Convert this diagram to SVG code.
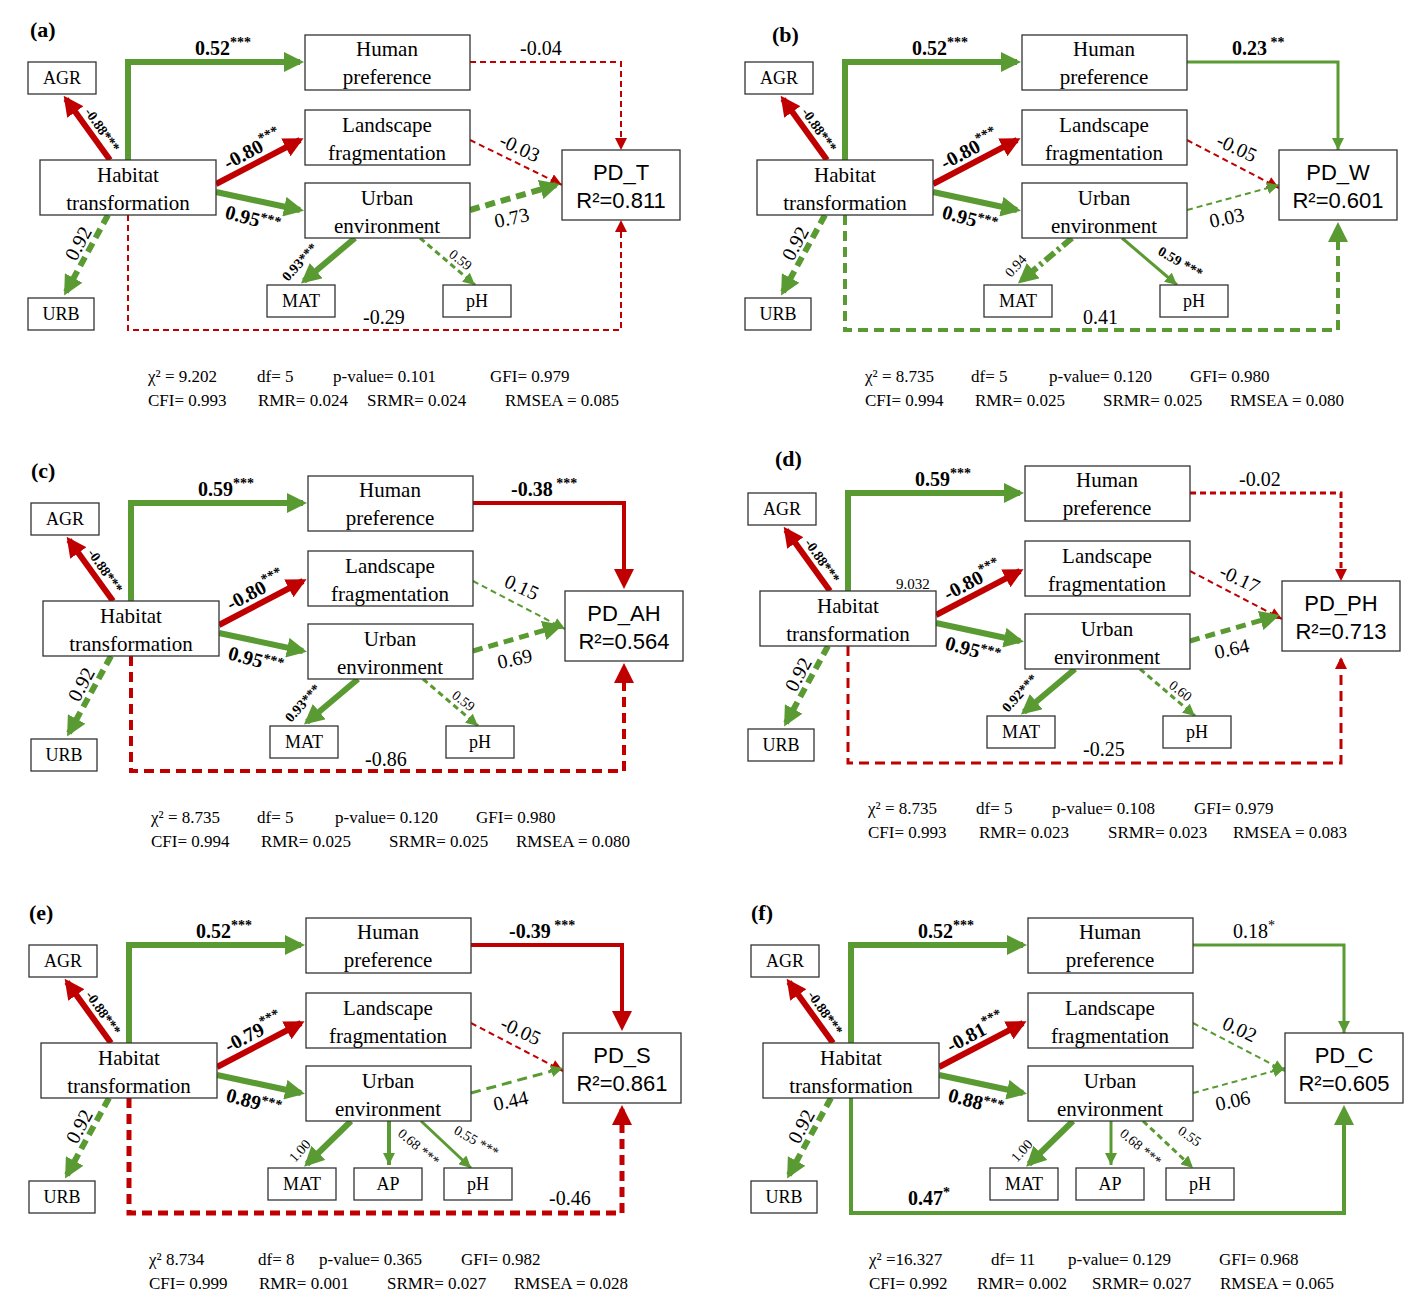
<svg xmlns="http://www.w3.org/2000/svg" width="1418" height="1311" viewBox="0 0 1418 1311">
<style>
.n rect{fill:#fff;stroke:#333;stroke-width:1.3}
text{font-family:"Liberation Serif","Times New Roman",serif;fill:#000}
.t{font-size:21px;text-anchor:middle}
.s{font-size:18px;text-anchor:middle}
.pd{font-family:"Liberation Sans",Arial,sans-serif;font-size:22px;text-anchor:middle}
.l{font-size:20px}
.sm{font-size:14px}
.b{font-weight:bold}
.st{font-size:17px}
.pl{font-size:22px;font-weight:bold}
.c path,.c line{fill:none}
.g{stroke:#5a9a32}
.r{stroke:#c00000}
.w6{stroke-width:6}.w5{stroke-width:5}.w4{stroke-width:4}.w3{stroke-width:3}.w2{stroke-width:2}
.d{stroke-dasharray:10,6}
.dd{stroke-dasharray:6,4}
.dt{stroke-dasharray:12,4,3,4}
</style>
<defs>
<marker id="gs" viewBox="0 0 10 10" refX="10" refY="5" markerUnits="userSpaceOnUse" markerWidth="12" markerHeight="12" orient="auto"><path d="M0,0L10,5L0,10z" fill="#5a9a32"/></marker>
<marker id="gl" viewBox="0 0 10 10" refX="8" refY="5" markerUnits="userSpaceOnUse" markerWidth="20" markerHeight="20" orient="auto"><path d="M0,0L10,5L0,10z" fill="#5a9a32"/></marker>
<marker id="rs" viewBox="0 0 10 10" refX="10" refY="5" markerUnits="userSpaceOnUse" markerWidth="12" markerHeight="12" orient="auto"><path d="M0,0L10,5L0,10z" fill="#c00000"/></marker>
<marker id="rl" viewBox="0 0 10 10" refX="8" refY="5" markerUnits="userSpaceOnUse" markerWidth="20" markerHeight="20" orient="auto"><path d="M0,0L10,5L0,10z" fill="#c00000"/></marker>
</defs>
<rect width="1418" height="1311" fill="#fff"/>

<!-- Panel a -->
<g id="panel-a">
<g class="c">
<path class="g w6" d="M128,160V62H300" marker-end="url(#gl)"/>
<path class="r w2 dd" d="M470,62H621V150" marker-end="url(#rs)"/>
<line class="r w6" x1="110" y1="160" x2="66" y2="99" marker-end="url(#rl)"/>
<line class="g w6 d" x1="108" y1="215" x2="66" y2="292" marker-end="url(#gl)"/>
<line class="r w6" x1="216" y1="184" x2="300" y2="140" marker-end="url(#rl)"/>
<line class="g w6" x1="216" y1="192" x2="300" y2="210" marker-end="url(#gl)"/>
<line class="r w2 dd" x1="470" y1="140" x2="562" y2="185" marker-end="url(#rs)"/>
<line class="g w6 d" x1="470" y1="210" x2="556" y2="185" marker-end="url(#gl)"/>
<line class="g w6" x1="355" y1="238" x2="304" y2="281" marker-end="url(#gl)"/>
<line class="g w3 dd" x1="420" y1="238" x2="475" y2="285" marker-end="url(#gs)"/>
<path class="r w2 dd" d="M128,215V330H621V220" marker-end="url(#rs)"/>
</g>
<text class="pl" x="30" y="37">(a)</text>
<text class="l b" x="195" y="55">0.52<tspan class="sm" dy="-8">***</tspan></text>
<text class="l" x="520" y="55">-0.04</text>
<text class="sm b" transform="translate(84,112) rotate(55)">-0.88***</text>
<text class="l" transform="translate(76,262) rotate(-62)" font-size="16">0.92</text>
<text class="l b" transform="translate(228,170) rotate(-28)">-0.80<tspan class="sm" dy="-8">***</tspan></text>
<text class="l b" transform="translate(224,218) rotate(15)">0.95<tspan class="sm" dy="-6">***</tspan></text>
<text class="l" transform="translate(498,145) rotate(25)">-0.03</text>
<text class="l" transform="translate(496,228) rotate(-12)">0.73</text>
<text class="sm b" transform="translate(288,282) rotate(-48)">0.93***</text>
<text class="sm" transform="translate(448,256) rotate(38)">0.59</text>
<text class="l" x="363" y="324">-0.29</text>
<g id="a-agr" class="n"><rect x="28" y="62" width="68" height="32"/><text class="s" x="62" y="84">AGR</text></g>
<g id="a-ht" class="n"><rect x="40" y="160" width="176" height="55"/><text class="t" x="128" y="182">Habitat</text><text class="t" x="128" y="210">transformation</text></g>
<g id="a-urb" class="n"><rect x="28" y="298" width="66" height="32"/><text class="s" x="61" y="320">URB</text></g>
<g id="a-hp" class="n"><rect x="305" y="35" width="165" height="55"/><text class="t" x="387" y="56">Human</text><text class="t" x="387" y="84">preference</text></g>
<g id="a-lf" class="n"><rect x="305" y="110" width="165" height="55"/><text class="t" x="387" y="132">Landscape</text><text class="t" x="387" y="160">fragmentation</text></g>
<g id="a-ue" class="n"><rect x="305" y="183" width="165" height="55"/><text class="t" x="387" y="205">Urban</text><text class="t" x="387" y="233">environment</text></g>
<g id="a-pd" class="n"><rect x="562" y="150" width="118" height="70"/><text class="pd" x="621" y="180">PD_T</text><text class="pd" x="621" y="208">R²=0.811</text></g>
<g id="a-mat" class="n"><rect x="267" y="285" width="68" height="32"/><text class="s" x="301" y="307">MAT</text></g>
<g id="a-ph" class="n"><rect x="443" y="285" width="68" height="32"/><text class="s" x="477" y="307">pH</text></g>
<text class="st" y="382"><tspan x="148">χ² = 9.202</tspan><tspan x="257">df= 5</tspan><tspan x="333">p-value= 0.101</tspan><tspan x="490">GFI= 0.979</tspan></text>
<text class="st" y="406"><tspan x="148">CFI= 0.993</tspan><tspan x="258">RMR= 0.024</tspan><tspan x="367">SRMR= 0.024</tspan><tspan x="505">RMSEA = 0.085</tspan></text>
</g>

<!-- Panel b -->
<g id="panel-b" transform="translate(717,0)">
<g class="c">
<path class="g w6" d="M128,160V62H300" marker-end="url(#gl)"/>
<path class="g w3" d="M470,62H621V150" marker-end="url(#gs)"/>
<line class="r w6" x1="110" y1="160" x2="66" y2="99" marker-end="url(#rl)"/>
<line class="g w6 d" x1="108" y1="215" x2="66" y2="292" marker-end="url(#gl)"/>
<line class="r w6" x1="216" y1="184" x2="300" y2="140" marker-end="url(#rl)"/>
<line class="g w6" x1="216" y1="192" x2="300" y2="210" marker-end="url(#gl)"/>
<line class="r w2 dd" x1="470" y1="140" x2="562" y2="188" marker-end="url(#rs)"/>
<line class="g w2 dd" x1="470" y1="210" x2="562" y2="185" marker-end="url(#gs)"/>
<line class="g w6 dt" x1="355" y1="238" x2="304" y2="281" marker-end="url(#gl)"/>
<line class="g w3" x1="405" y1="238" x2="460" y2="285" marker-end="url(#gs)"/>
<path class="g w4 d" d="M128,215V330H621V226" marker-end="url(#gl)"/>
</g>
<text class="pl" x="55" y="42">(b)</text>
<text class="l b" x="195" y="55">0.52<tspan class="sm" dy="-8">***</tspan></text>
<text class="l b" x="515" y="55">0.23<tspan class="sm" dy="-8"> **</tspan></text>
<text class="sm b" transform="translate(84,112) rotate(55)">-0.88***</text>
<text class="l" transform="translate(76,262) rotate(-62)" font-size="16">0.92</text>
<text class="l b" transform="translate(228,170) rotate(-28)">-0.80<tspan class="sm" dy="-8">***</tspan></text>
<text class="l b" transform="translate(224,218) rotate(15)">0.95<tspan class="sm" dy="-6">***</tspan></text>
<text class="l" transform="translate(498,145) rotate(25)">-0.05</text>
<text class="l" transform="translate(494,228) rotate(-12)">0.03</text>
<text class="sm" transform="translate(294,278) rotate(-48)">0.94</text>
<text class="sm b" transform="translate(440,254) rotate(30)">0.59 ***</text>
<text class="l" x="366" y="324">0.41</text>
<g id="b-agr" class="n"><rect x="28" y="62" width="68" height="32"/><text class="s" x="62" y="84">AGR</text></g>
<g id="b-ht" class="n"><rect x="40" y="160" width="176" height="55"/><text class="t" x="128" y="182">Habitat</text><text class="t" x="128" y="210">transformation</text></g>
<g id="b-urb" class="n"><rect x="28" y="298" width="66" height="32"/><text class="s" x="61" y="320">URB</text></g>
<g id="b-hp" class="n"><rect x="305" y="35" width="165" height="55"/><text class="t" x="387" y="56">Human</text><text class="t" x="387" y="84">preference</text></g>
<g id="b-lf" class="n"><rect x="305" y="110" width="165" height="55"/><text class="t" x="387" y="132">Landscape</text><text class="t" x="387" y="160">fragmentation</text></g>
<g id="b-ue" class="n"><rect x="305" y="183" width="165" height="55"/><text class="t" x="387" y="205">Urban</text><text class="t" x="387" y="233">environment</text></g>
<g id="b-pd" class="n"><rect x="562" y="150" width="118" height="70"/><text class="pd" x="621" y="180">PD_W</text><text class="pd" x="621" y="208">R²=0.601</text></g>
<g id="b-mat" class="n"><rect x="267" y="285" width="68" height="32"/><text class="s" x="301" y="307">MAT</text></g>
<g id="b-ph" class="n"><rect x="443" y="285" width="68" height="32"/><text class="s" x="477" y="307">pH</text></g>
<text class="st" y="382"><tspan x="148">χ² = 8.735</tspan><tspan x="254">df= 5</tspan><tspan x="332">p-value= 0.120</tspan><tspan x="473">GFI= 0.980</tspan></text>
<text class="st" y="406"><tspan x="148">CFI= 0.994</tspan><tspan x="258">RMR= 0.025</tspan><tspan x="386">SRMR= 0.025</tspan><tspan x="513">RMSEA = 0.080</tspan></text>
</g>

<!-- Panel c -->
<g id="panel-c" transform="translate(3,441)">
<g class="c">
<path class="g w6" d="M128,160V62H300" marker-end="url(#gl)"/>
<path class="r w4" d="M470,62H621V144" marker-end="url(#rl)"/>
<line class="r w6" x1="110" y1="160" x2="66" y2="99" marker-end="url(#rl)"/>
<line class="g w6 d" x1="108" y1="215" x2="66" y2="292" marker-end="url(#gl)"/>
<line class="r w6" x1="216" y1="184" x2="300" y2="140" marker-end="url(#rl)"/>
<line class="g w6" x1="216" y1="192" x2="300" y2="210" marker-end="url(#gl)"/>
<line class="g w2 dd" x1="470" y1="140" x2="562" y2="188" marker-end="url(#gs)"/>
<line class="g w5 d" x1="470" y1="210" x2="556" y2="185" marker-end="url(#gl)"/>
<line class="g w6" x1="355" y1="238" x2="304" y2="281" marker-end="url(#gl)"/>
<line class="g w3 dd" x1="420" y1="238" x2="475" y2="285" marker-end="url(#gs)"/>
<path class="r w4 d" d="M128,215V330H621V226" marker-end="url(#rl)"/>
</g>
<text class="pl" x="28" y="37">(c)</text>
<text class="l b" x="195" y="55">0.59<tspan class="sm" dy="-8">***</tspan></text>
<text class="l b" x="508" y="55">-0.38<tspan class="sm" dy="-8"> ***</tspan></text>
<text class="sm b" transform="translate(84,112) rotate(55)">-0.88***</text>
<text class="l" transform="translate(76,262) rotate(-62)" font-size="16">0.92</text>
<text class="l b" transform="translate(228,170) rotate(-28)">-0.80<tspan class="sm" dy="-8">***</tspan></text>
<text class="l b" transform="translate(224,218) rotate(15)">0.95<tspan class="sm" dy="-6">***</tspan></text>
<text class="l" transform="translate(500,145) rotate(25)">0.15</text>
<text class="l" transform="translate(496,228) rotate(-12)">0.69</text>
<text class="sm b" transform="translate(288,282) rotate(-48)">0.93***</text>
<text class="sm" transform="translate(448,256) rotate(38)">0.59</text>
<text class="l" x="362" y="325">-0.86</text>
<g id="c-agr" class="n"><rect x="28" y="62" width="68" height="32"/><text class="s" x="62" y="84">AGR</text></g>
<g id="c-ht" class="n"><rect x="40" y="160" width="176" height="55"/><text class="t" x="128" y="182">Habitat</text><text class="t" x="128" y="210">transformation</text></g>
<g id="c-urb" class="n"><rect x="28" y="298" width="66" height="32"/><text class="s" x="61" y="320">URB</text></g>
<g id="c-hp" class="n"><rect x="305" y="35" width="165" height="55"/><text class="t" x="387" y="56">Human</text><text class="t" x="387" y="84">preference</text></g>
<g id="c-lf" class="n"><rect x="305" y="110" width="165" height="55"/><text class="t" x="387" y="132">Landscape</text><text class="t" x="387" y="160">fragmentation</text></g>
<g id="c-ue" class="n"><rect x="305" y="183" width="165" height="55"/><text class="t" x="387" y="205">Urban</text><text class="t" x="387" y="233">environment</text></g>
<g id="c-pd" class="n"><rect x="562" y="150" width="118" height="70"/><text class="pd" x="621" y="180">PD_AH</text><text class="pd" x="621" y="208">R²=0.564</text></g>
<g id="c-mat" class="n"><rect x="267" y="285" width="68" height="32"/><text class="s" x="301" y="307">MAT</text></g>
<g id="c-ph" class="n"><rect x="443" y="285" width="68" height="32"/><text class="s" x="477" y="307">pH</text></g>
<text class="st" y="382"><tspan x="148">χ² = 8.735</tspan><tspan x="254">df= 5</tspan><tspan x="332">p-value= 0.120</tspan><tspan x="473">GFI= 0.980</tspan></text>
<text class="st" y="406"><tspan x="148">CFI= 0.994</tspan><tspan x="258">RMR= 0.025</tspan><tspan x="386">SRMR= 0.025</tspan><tspan x="513">RMSEA = 0.080</tspan></text>
</g>

<!-- Panel d -->
<g id="panel-d" transform="translate(720,431)">
<g class="c">
<path class="g w6" d="M128,160V62H300" marker-end="url(#gl)"/>
<path class="r w3 dd" d="M470,62H621V150" marker-end="url(#rs)"/>
<line class="r w6" x1="110" y1="160" x2="66" y2="99" marker-end="url(#rl)"/>
<line class="g w6 d" x1="108" y1="215" x2="66" y2="292" marker-end="url(#gl)"/>
<line class="r w6" x1="216" y1="184" x2="300" y2="140" marker-end="url(#rl)"/>
<line class="g w6" x1="216" y1="192" x2="300" y2="210" marker-end="url(#gl)"/>
<line class="r w2 dd" x1="470" y1="140" x2="562" y2="188" marker-end="url(#rs)"/>
<line class="g w5 d" x1="470" y1="210" x2="556" y2="185" marker-end="url(#gl)"/>
<line class="g w6" x1="355" y1="238" x2="304" y2="281" marker-end="url(#gl)"/>
<line class="g w3 dd" x1="420" y1="238" x2="475" y2="285" marker-end="url(#gs)"/>
<path class="r w3 d" d="M128,215V332H621V226" marker-end="url(#rs)"/>
</g>
<text class="pl" x="55" y="35">(d)</text>
<text class="l b" x="195" y="55">0.59<tspan class="sm" dy="-8">***</tspan></text>
<text class="l" x="519" y="55">-0.02</text>
<text fill="#444" font-family="Liberation Sans,Arial,sans-serif" font-size="15" x="176" y="158">9.032</text>
<text class="sm b" transform="translate(84,112) rotate(55)">-0.88***</text>
<text class="l" transform="translate(76,262) rotate(-62)" font-size="16">0.92</text>
<text class="l b" transform="translate(228,170) rotate(-28)">-0.80<tspan class="sm" dy="-8">***</tspan></text>
<text class="l b" transform="translate(224,218) rotate(15)">0.95<tspan class="sm" dy="-6">***</tspan></text>
<text class="l" transform="translate(498,145) rotate(25)">-0.17</text>
<text class="l" transform="translate(496,228) rotate(-12)">0.64</text>
<text class="sm b" transform="translate(288,282) rotate(-48)">0.92***</text>
<text class="sm" transform="translate(448,256) rotate(38)">0.60</text>
<text class="l" x="363" y="325">-0.25</text>
<g id="d-agr" class="n"><rect x="28" y="62" width="68" height="32"/><text class="s" x="62" y="84">AGR</text></g>
<g id="d-ht" class="n"><rect x="40" y="160" width="176" height="55"/><text class="t" x="128" y="182">Habitat</text><text class="t" x="128" y="210">transformation</text></g>
<g id="d-urb" class="n"><rect x="28" y="298" width="66" height="32"/><text class="s" x="61" y="320">URB</text></g>
<g id="d-hp" class="n"><rect x="305" y="35" width="165" height="55"/><text class="t" x="387" y="56">Human</text><text class="t" x="387" y="84">preference</text></g>
<g id="d-lf" class="n"><rect x="305" y="110" width="165" height="55"/><text class="t" x="387" y="132">Landscape</text><text class="t" x="387" y="160">fragmentation</text></g>
<g id="d-ue" class="n"><rect x="305" y="183" width="165" height="55"/><text class="t" x="387" y="205">Urban</text><text class="t" x="387" y="233">environment</text></g>
<g id="d-pd" class="n"><rect x="562" y="150" width="118" height="70"/><text class="pd" x="621" y="180">PD_PH</text><text class="pd" x="621" y="208">R²=0.713</text></g>
<g id="d-mat" class="n"><rect x="267" y="285" width="68" height="32"/><text class="s" x="301" y="307">MAT</text></g>
<g id="d-ph" class="n"><rect x="443" y="285" width="68" height="32"/><text class="s" x="477" y="307">pH</text></g>
<text class="st" y="383"><tspan x="148">χ² = 8.735</tspan><tspan x="256">df= 5</tspan><tspan x="332">p-value= 0.108</tspan><tspan x="474">GFI= 0.979</tspan></text>
<text class="st" y="407"><tspan x="148">CFI= 0.993</tspan><tspan x="259">RMR= 0.023</tspan><tspan x="388">SRMR= 0.023</tspan><tspan x="513">RMSEA = 0.083</tspan></text>
</g>

<!-- Panel e -->
<g id="panel-e" transform="translate(1,883)">
<g class="c">
<path class="g w6" d="M128,160V62H300" marker-end="url(#gl)"/>
<path class="r w4" d="M470,62H621V144" marker-end="url(#rl)"/>
<line class="r w6" x1="110" y1="160" x2="66" y2="99" marker-end="url(#rl)"/>
<line class="g w6 d" x1="108" y1="215" x2="66" y2="292" marker-end="url(#gl)"/>
<line class="r w6" x1="216" y1="184" x2="300" y2="140" marker-end="url(#rl)"/>
<line class="g w6" x1="216" y1="192" x2="300" y2="210" marker-end="url(#gl)"/>
<line class="r w2 dd" x1="470" y1="140" x2="562" y2="188" marker-end="url(#rs)"/>
<line class="g w3 d" x1="470" y1="210" x2="562" y2="185" marker-end="url(#gs)"/>
<line class="g w6" x1="350" y1="238" x2="306" y2="281" marker-end="url(#gl)"/>
<line class="g w4" x1="388" y1="238" x2="388" y2="282" marker-end="url(#gs)"/>
<line class="g w3" x1="420" y1="238" x2="470" y2="285" marker-end="url(#gs)"/>
<path class="r w5 d" d="M128,215V330H621V226" marker-end="url(#rl)"/>
</g>
<text class="pl" x="28" y="37">(e)</text>
<text class="l b" x="195" y="55">0.52<tspan class="sm" dy="-8">***</tspan></text>
<text class="l b" x="508" y="55">-0.39<tspan class="sm" dy="-8"> ***</tspan></text>
<text class="sm b" transform="translate(84,112) rotate(55)">-0.88***</text>
<text class="l" transform="translate(76,262) rotate(-62)" font-size="16">0.92</text>
<text class="l b" transform="translate(228,170) rotate(-28)">-0.79<tspan class="sm" dy="-8">***</tspan></text>
<text class="l b" transform="translate(224,218) rotate(15)">0.89<tspan class="sm" dy="-6">***</tspan></text>
<text class="l" transform="translate(498,145) rotate(25)">-0.05</text>
<text class="l" transform="translate(494,228) rotate(-12)">0.44</text>
<text class="sm" transform="translate(294,280) rotate(-48)">1.00</text>
<text class="sm" transform="translate(396,252) rotate(40)">0.68 ***</text>
<text class="sm" transform="translate(452,250) rotate(30)">0.55 ***</text>
<text class="l" x="548" y="322">-0.46</text>
<g id="e-agr" class="n"><rect x="28" y="62" width="68" height="32"/><text class="s" x="62" y="84">AGR</text></g>
<g id="e-ht" class="n"><rect x="40" y="160" width="176" height="55"/><text class="t" x="128" y="182">Habitat</text><text class="t" x="128" y="210">transformation</text></g>
<g id="e-urb" class="n"><rect x="28" y="298" width="66" height="32"/><text class="s" x="61" y="320">URB</text></g>
<g id="e-hp" class="n"><rect x="305" y="35" width="165" height="55"/><text class="t" x="387" y="56">Human</text><text class="t" x="387" y="84">preference</text></g>
<g id="e-lf" class="n"><rect x="305" y="110" width="165" height="55"/><text class="t" x="387" y="132">Landscape</text><text class="t" x="387" y="160">fragmentation</text></g>
<g id="e-ue" class="n"><rect x="305" y="183" width="165" height="55"/><text class="t" x="387" y="205">Urban</text><text class="t" x="387" y="233">environment</text></g>
<g id="e-pd" class="n"><rect x="562" y="150" width="118" height="70"/><text class="pd" x="621" y="180">PD_S</text><text class="pd" x="621" y="208">R²=0.861</text></g>
<g id="e-mat" class="n"><rect x="267" y="285" width="68" height="32"/><text class="s" x="301" y="307">MAT</text></g>
<g id="e-ap" class="n"><rect x="353" y="285" width="68" height="32"/><text class="s" x="387" y="307">AP</text></g>
<g id="e-ph" class="n"><rect x="443" y="285" width="68" height="32"/><text class="s" x="477" y="307">pH</text></g>
<text class="st" y="382"><tspan x="148">χ² 8.734</tspan><tspan x="257">df= 8</tspan><tspan x="318">p-value= 0.365</tspan><tspan x="460">GFI= 0.982</tspan></text>
<text class="st" y="406"><tspan x="148">CFI= 0.999</tspan><tspan x="258">RMR= 0.001</tspan><tspan x="386">SRMR= 0.027</tspan><tspan x="513">RMSEA = 0.028</tspan></text>
</g>

<!-- Panel f -->
<g id="panel-f" transform="translate(723,883)">
<g class="c">
<path class="g w6" d="M128,160V62H300" marker-end="url(#gl)"/>
<path class="g w3" d="M470,62H621V150" marker-end="url(#gs)"/>
<line class="r w6" x1="110" y1="160" x2="66" y2="99" marker-end="url(#rl)"/>
<line class="g w6 d" x1="108" y1="215" x2="66" y2="292" marker-end="url(#gl)"/>
<line class="r w6" x1="216" y1="184" x2="300" y2="140" marker-end="url(#rl)"/>
<line class="g w6" x1="216" y1="192" x2="300" y2="210" marker-end="url(#gl)"/>
<line class="g w2 dd" x1="470" y1="140" x2="562" y2="188" marker-end="url(#gs)"/>
<line class="g w2 dd" x1="470" y1="210" x2="562" y2="185" marker-end="url(#gs)"/>
<line class="g w6" x1="350" y1="238" x2="306" y2="281" marker-end="url(#gl)"/>
<line class="g w3" x1="388" y1="238" x2="388" y2="282" marker-end="url(#gs)"/>
<line class="g w3 dd" x1="420" y1="238" x2="470" y2="285" marker-end="url(#gs)"/>
<path class="g w4" d="M128,215V330H621V226" marker-end="url(#gl)"/>
</g>
<text class="pl" x="28" y="37">(f)</text>
<text class="l b" x="195" y="55">0.52<tspan class="sm" dy="-8">***</tspan></text>
<text class="l" x="510" y="55">0.18<tspan class="sm" dy="-8">*</tspan></text>
<text class="sm b" transform="translate(84,112) rotate(55)">-0.88***</text>
<text class="l" transform="translate(76,262) rotate(-62)" font-size="16">0.92</text>
<text class="l b" transform="translate(228,170) rotate(-28)">-0.81<tspan class="sm" dy="-8">***</tspan></text>
<text class="l b" transform="translate(224,218) rotate(15)">0.88<tspan class="sm" dy="-6">***</tspan></text>
<text class="l" transform="translate(498,145) rotate(25)">0.02</text>
<text class="l" transform="translate(494,228) rotate(-12)">0.06</text>
<text class="sm" transform="translate(294,280) rotate(-48)">1.00</text>
<text class="sm" transform="translate(396,252) rotate(40)">0.68 ***</text>
<text class="sm" transform="translate(454,250) rotate(35)">0.55</text>
<text class="l b" x="185" y="322">0.47<tspan class="sm" dy="-8">*</tspan></text>
<g id="f-agr" class="n"><rect x="28" y="62" width="68" height="32"/><text class="s" x="62" y="84">AGR</text></g>
<g id="f-ht" class="n"><rect x="40" y="160" width="176" height="55"/><text class="t" x="128" y="182">Habitat</text><text class="t" x="128" y="210">transformation</text></g>
<g id="f-urb" class="n"><rect x="28" y="298" width="66" height="32"/><text class="s" x="61" y="320">URB</text></g>
<g id="f-hp" class="n"><rect x="305" y="35" width="165" height="55"/><text class="t" x="387" y="56">Human</text><text class="t" x="387" y="84">preference</text></g>
<g id="f-lf" class="n"><rect x="305" y="110" width="165" height="55"/><text class="t" x="387" y="132">Landscape</text><text class="t" x="387" y="160">fragmentation</text></g>
<g id="f-ue" class="n"><rect x="305" y="183" width="165" height="55"/><text class="t" x="387" y="205">Urban</text><text class="t" x="387" y="233">environment</text></g>
<g id="f-pd" class="n"><rect x="562" y="150" width="118" height="70"/><text class="pd" x="621" y="180">PD_C</text><text class="pd" x="621" y="208">R²=0.605</text></g>
<g id="f-mat" class="n"><rect x="267" y="285" width="68" height="32"/><text class="s" x="301" y="307">MAT</text></g>
<g id="f-ap" class="n"><rect x="353" y="285" width="68" height="32"/><text class="s" x="387" y="307">AP</text></g>
<g id="f-ph" class="n"><rect x="443" y="285" width="68" height="32"/><text class="s" x="477" y="307">pH</text></g>
<text class="st" y="382"><tspan x="146">χ² =16.327</tspan><tspan x="268">df= 11</tspan><tspan x="345">p-value= 0.129</tspan><tspan x="496">GFI= 0.968</tspan></text>
<text class="st" y="406"><tspan x="146">CFI= 0.992</tspan><tspan x="254">RMR= 0.002</tspan><tspan x="369">SRMR= 0.027</tspan><tspan x="497">RMSEA = 0.065</tspan></text>
</g>
</svg>
